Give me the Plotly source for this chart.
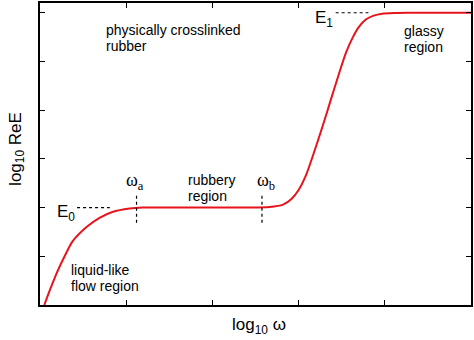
import plotly.graph_objects as go

# curve (log10 omega, log10 ReE)
log_omega = [0.05, 0.12, 0.20, 0.28, 0.38, 0.54, 0.69, 0.84, 1.04, 1.19, 1.50, 2.00, 2.40, 2.66,
             2.82, 2.92, 3.00, 3.08, 3.18, 3.28, 3.37, 3.46, 3.55, 3.63, 3.70, 3.78, 3.87, 3.97,
             4.12, 4.27, 4.60, 5.00]
log_ReE = [0.00, 0.33, 0.68, 0.98, 1.31, 1.60, 1.79, 1.91, 1.98, 2.00, 2.00, 2.00, 2.00, 2.01,
           2.06, 2.18, 2.36, 2.64, 3.14, 3.68, 4.19, 4.70, 5.18, 5.50, 5.71, 5.86, 5.94, 5.98,
           5.995, 6.00, 6.00, 6.00]

E0_level = 2.0
E1_level = 6.0
E0_guide_x = [0.43, 0.81]
E1_guide_x = [3.43, 3.81]
omega_a = 1.12
omega_b = 2.575
omega_guide_y = [1.69, 2.29]

x_ticks = [0, 1, 2, 3, 4, 5]
y_ticks = [0, 1, 2, 3, 4, 5, 6]

FONT = "Liberation Sans, Arial, Helvetica, sans-serif"
SERIF = "Liberation Serif, Times New Roman, serif"

# pixel helpers for placing labels (plot area: x 40..473, y 305 bottom, 49 px per unit)
def dx(px):
    return (px - 40) / 86.6

def dy(py):
    return (305 - py) / 49.0

fig = go.Figure()
fig.add_trace(go.Scatter(x=log_omega, y=log_ReE, mode="lines",
                         line=dict(color="#e8141c", width=2, shape="spline", smoothing=0.8),
                         hoverinfo="skip", showlegend=False))

dot = dict(color="black", width=1.2, dash="dot")
fig.add_shape(type="line", x0=E0_guide_x[0], x1=E0_guide_x[1], y0=E0_level, y1=E0_level, line=dot)
fig.add_shape(type="line", x0=E1_guide_x[0], x1=E1_guide_x[1], y0=E1_level, y1=E1_level, line=dot)
fig.add_shape(type="line", x0=omega_a, x1=omega_a, y0=omega_guide_y[0], y1=omega_guide_y[1], line=dot)
fig.add_shape(type="line", x0=omega_b, x1=omega_b, y0=omega_guide_y[0], y1=omega_guide_y[1], line=dot)

def note(px, py, text, size=14, family=FONT):
    fig.add_annotation(x=dx(px), y=dy(py), xref="x", yref="y", text=text, showarrow=False,
                       xanchor="left", yanchor="middle", align="left",
                       font=dict(family=family, size=size, color="black"))

note(104, 28, "physically crosslinked")
note(104, 44, "rubber")
note(404, 29, "glassy")
note(404, 45, "region")
note(187, 179, "rubbery")
note(187, 195, "region")
note(69, 270, "liquid-like")
note(69, 286, "flow region")
note(55, 212, "E<sub>0</sub>", size=17)
note(314, 17, "E<sub>1</sub>", size=17)
note(124, 181, "ω<sub>a</sub>", size=18, family=SERIF)
note(256, 181, "ω<sub>b</sub>", size=18, family=SERIF)

fig.add_annotation(x=0.508, y=-0.068, xref="paper", yref="paper", text="log<sub>10</sub> ω",
                   showarrow=False, xanchor="center", yanchor="middle",
                   font=dict(family=FONT, size=17, color="black"))
fig.add_annotation(x=-0.054, y=0.516, xref="paper", yref="paper", text="log<sub>10</sub> ReE",
                   showarrow=False, xanchor="center", yanchor="middle", textangle=-90,
                   font=dict(family=FONT, size=17, color="black"))

axis_common = dict(showgrid=False, zeroline=False, showline=True, linecolor="black", linewidth=2,
                   mirror="ticks", ticks="inside", ticklen=5, tickwidth=1.2, tickcolor="black",
                   showticklabels=False, fixedrange=True)
fig.update_xaxes(range=[0, 5], tickvals=x_ticks, **axis_common)
fig.update_yaxes(range=[0, 6.2], tickvals=y_ticks, **axis_common)

fig.update_layout(width=474, height=340, margin=dict(l=40, r=1, t=1, b=35),
                  plot_bgcolor="white", paper_bgcolor="white",
                  font=dict(family=FONT))
fig.write_html("out.html")
